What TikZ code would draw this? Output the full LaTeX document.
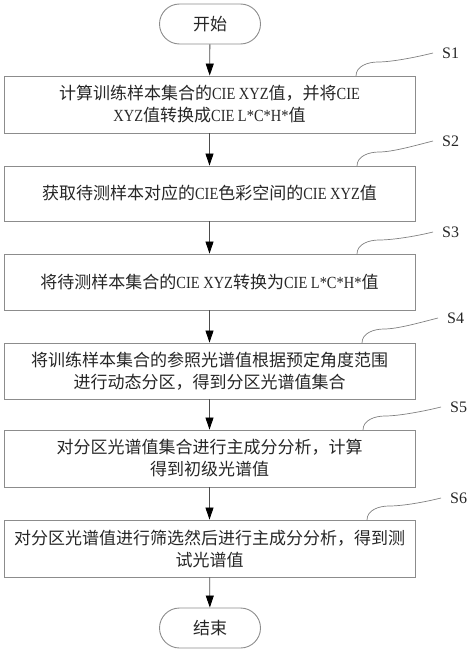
\documentclass[tikz,border=0pt]{standalone}
\usepackage{fontspec}
\setmainfont{Liberation Serif}
\newfontfamily\cjk{Noto Sans CJK SC}
\newfontfamily\latf[FakeStretch=0.85]{Liberation Serif}
\newcommand\La[1]{{\latf #1}}
\usetikzlibrary{arrows.meta,shapes.misc}
\begin{document}
\begin{tikzpicture}[x=1pt,y=-1pt,
  boxstyle/.style={draw=black!45, line width=0.9pt, rectangle, minimum width=411pt,
    font=\cjk\fontsize{17}{22}\selectfont, text=black!85, align=center, inner sep=0pt},
  termstyle/.style={draw=black!45, line width=0.9pt, rounded rectangle, minimum width=101pt,
    minimum height=40pt, font=\cjk\fontsize{17}{20}\selectfont, text=black!85, inner sep=0pt},
  flow/.style={draw=black!70, line width=0.8pt, -{Triangle[length=12pt,width=8pt,color=black]}},
  lead/.style={draw=black!50, line width=0.7pt},
  slabel/.style={font=\fontsize{16}{18}\selectfont, anchor=west, inner sep=0pt, text=black!85}]
\useasboundingbox (0,0) rectangle (474,653);
\node[termstyle] (st) at (210,24) {开始};
\node[boxstyle, minimum height=57pt] (b1) at (209.5,104.5) {计算训练样本集合的\La{CIE XYZ}值，并将\La{CIE}\\\La{XYZ}值转换成\La{CIE L*C*H*}值};
\node[boxstyle, minimum height=55pt] (b2) at (209.5,193.5) {获取待测样本对应的\La{CIE}色彩空间的\La{CIE XYZ}值};
\node[boxstyle, minimum height=56pt] (b3) at (209.5,282) {将待测样本集合的\La{CIE XYZ}转换为\La{CIE L*C*H*}值};
\node[boxstyle, minimum height=56pt] (b4) at (209.5,371) {将训练样本集合的参照光谱值根据预定角度范围\\进行动态分区，得到分区光谱值集合};
\node[boxstyle, minimum height=57pt] (b5) at (209.5,458.5) {对分区光谱值集合进行主成分分析，计算\\得到初级光谱值};
\node[boxstyle, minimum height=57pt] (b6) at (209.5,548.5) {对分区光谱值进行筛选然后进行主成分分析，得到测\\试光谱值};
\node[termstyle] (en) at (210,628) {结束};
\draw[flow] (st) -- (b1);
\draw[flow] (b1) -- (b2);
\draw[flow] (b2) -- (b3);
\draw[flow] (b3) -- (b4);
\draw[flow] (b4) -- (b5);
\draw[flow] (b5) -- (b6);
\draw[flow] (b6) -- (en);
% step labels
\node[slabel] (s1) at (442,53) {S1};
\node[slabel] (s2) at (442,141) {S2};
\node[slabel] (s3) at (442,232) {S3};
\node[slabel] (s4) at (447,318) {S4};
\node[slabel] (s5) at (450,407) {S5};
\node[slabel] (s6) at (450,498) {S6};
\coordinate (c1) at (356,76);
\coordinate (c2) at (357,166);
\coordinate (c3) at (357,254);
\coordinate (c4) at (362,343);
\coordinate (c5) at (363,430);
\coordinate (c6) at (367,520);
\foreach \i in {1,...,6}{
  \draw[lead] (c\i) .. controls +(0,-10) and +(-10,0) .. ++(22,-14)
     .. controls +(14,0) and +(-16,4) .. ([xshift=-9pt]s\i.west);
}
\end{tikzpicture}
\end{document}
